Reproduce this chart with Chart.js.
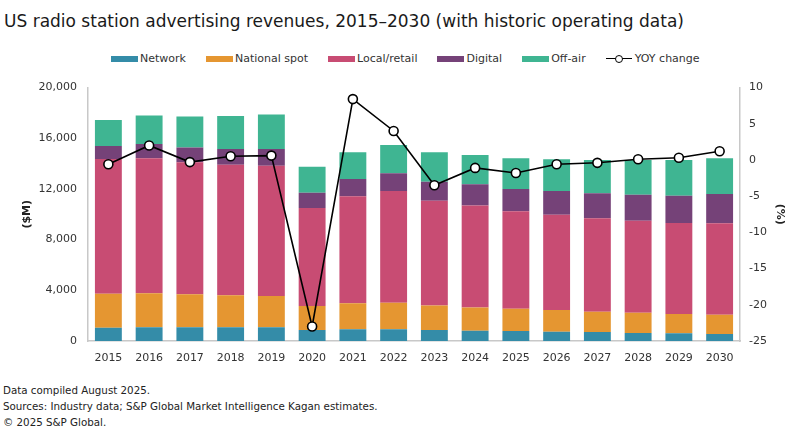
<!DOCTYPE html>
<html>
<head>
<meta charset="utf-8">
<script src="https://cdn.jsdelivr.net/npm/chart.js@4.4.1/dist/chart.umd.min.js"></script>
<style>
  body { margin: 0; background: #fff; }
  #wrap { position: relative; width: 807px; height: 438px; overflow: hidden;
          font-family: "DejaVu Sans", sans-serif; color: #1a1a1a; }
  #title { position: absolute; left: 4px; top: 11px; font-size: 17px; line-height: 20px; white-space: nowrap; }
  #legend { position: absolute; left: 111px; top: 52px; display: flex; align-items: center; font-size: 11px; line-height: 14px;
            color: #333; white-space: nowrap; }
  .item { display: flex; align-items: center; margin-right: 20px; }
  .box { width: 27px; height: 6px; margin-right: 2px; }
  .lineKey { position: relative; width: 26px; height: 12px; margin-right: 3px; }
  .lineKey:before { content: ""; position: absolute; left: 0; right: 0; top: 5px; border-top: 1.5px solid #000; }
  .lineKey:after { content: ""; position: absolute; left: 9px; top: 2px; width: 6px; height: 6px; border: 1.5px solid #000; border-radius: 50%; background: #fff; }
  #chart { position: absolute; left: 0; top: 75px; }
  #notes { position: absolute; left: 3px; top: 382px; font-size: 10.3px; line-height: 16px; color: #222; white-space: nowrap; }
</style>
</head>
<body>
<div id="wrap">
  <div id="title">US radio station advertising revenues, 2015–2030 (with historic operating data)</div>
  <div id="legend"></div>
  <canvas id="chart" width="807" height="300"></canvas>
  <div id="notes">
    Data compiled August 2025.<br>
    Sources: Industry data; S&amp;P Global Market Intelligence Kagan estimates.<br>
    © 2025 S&amp;P Global.
  </div>
</div>
<script>
const years = ["2015", "2016", "2017", "2018", "2019", "2020", "2021", "2022",
               "2023", "2024", "2025", "2026", "2027", "2028", "2029", "2030"];

// revenues, $M
const network      = [1050, 1080, 1080, 1080, 1080, 870, 920, 920, 870, 815, 790, 735, 710, 630, 605, 550];
const nationalSpot = [2680, 2680, 2600, 2520, 2470, 1890, 2050, 2100, 1940, 1835, 1760, 1710, 1600, 1600, 1525, 1525];
const localRetail  = [10630, 10650, 10420, 10310, 10280, 7730, 8450, 8810, 8260, 8050, 7680, 7520, 7370, 7255, 7180, 7210];
const digital      = [1030, 1130, 1160, 1240, 1320, 1210, 1365, 1400, 1500, 1660, 1760, 1870, 1970, 2050, 2155, 2315];
const offAir       = [2050, 2260, 2450, 2600, 2710, 2050, 2100, 2230, 2315, 2315, 2420, 2500, 2630, 2740, 2815, 2810];

// YOY change, %
const yoyChange = [-0.6, 2.0, -0.3, 0.5, 0.6, -23.0, 8.4, 4.0, -3.5, -1.1, -1.8, -0.6, -0.4, 0.1, 0.3, 1.2];

const leftTicks = [0, 4000, 8000, 12000, 16000, 20000];
const rightTicks = [-25, -20, -15, -10, -5, 0, 5, 10];

const colors = {
    network: "#348ca8",
    national: "#e59631",
    local: "#c84c73",
    digital: "#754278",
    offair: "#3fb592"
};

const fontFamily = '"DejaVu Sans", sans-serif';
const axisColor = "#c8c8c8";

/* LEGEND */

const legendItems = [
    ["Network", colors.network],
    ["National spot", colors.national],
    ["Local/retail", colors.local],
    ["Digital", colors.digital],
    ["Off-air", colors.offair]
];

const legend = document.getElementById("legend");

legendItems.forEach(([name, color]) => {
    const item = document.createElement("div");
    item.className = "item";
    item.innerHTML = '<span class="box" style="background:' + color + '"></span>' + name;
    legend.appendChild(item);
});

const lineItem = document.createElement("div");
lineItem.className = "item";
lineItem.innerHTML = '<span class="lineKey"></span>YOY change';
legend.appendChild(lineItem);

/* CHART */

function bar(label, data, color) {
    return {
        type: "bar",
        label: label,
        data: data,
        backgroundColor: color,
        borderWidth: 0,
        stack: "rev",
        yAxisID: "y",
        order: 1,
        categoryPercentage: 1,
        barPercentage: 0.66
    };
}

new Chart(document.getElementById("chart"), {
    data: {
        labels: years,
        datasets: [
            {
                type: "line",
                label: "YOY change",
                data: yoyChange,
                yAxisID: "y1",
                borderColor: "#000",
                borderWidth: 1.6,
                pointBackgroundColor: "#fff",
                pointBorderColor: "#000",
                pointBorderWidth: 1.6,
                pointRadius: 4.5,
                tension: 0,
                order: 0
            },
            bar("Network", network, colors.network),
            bar("National spot", nationalSpot, colors.national),
            bar("Local/retail", localRetail, colors.local),
            bar("Digital", digital, colors.digital),
            bar("Off-air", offAir, colors.offair)
        ]
    },
    options: {
        responsive: false,
        animation: false,
        layout: {
            padding: { top: 12.5, left: 0, right: 0, bottom: 0 }
        },
        plugins: {
            legend: { display: false },
            tooltip: { enabled: false }
        },
        scales: {
            x: {
                stacked: true,
                grid: { display: false },
                border: { display: true, color: axisColor, width: 1.5 },
                ticks: {
                    color: "#333",
                    padding: 3,
                    maxRotation: 0,
                    font: { family: fontFamily, size: 11 }
                },
                afterFit: scale => { scale.height = 34; }
            },
            y: {
                stacked: true,
                position: "left",
                min: 0,
                max: 20000,
                afterBuildTicks: scale => { scale.ticks = leftTicks.map(v => ({ value: v })); },
                grid: { display: false },
                border: { display: true, color: axisColor, width: 1.5 },
                ticks: {
                    color: "#333",
                    padding: 3,
                    font: { family: fontFamily, size: 11 },
                    callback: v => v.toLocaleString("en-US")
                },
                title: {
                    display: true,
                    text: "($M)",
                    color: "#222",
                    padding: { top: 21, bottom: 0 },
                    font: { family: fontFamily, size: 11, weight: "bold" }
                },
                afterFit: scale => { scale.width = 88; }
            },
            y1: {
                position: "right",
                min: -25,
                max: 10,
                afterBuildTicks: scale => { scale.ticks = rightTicks.map(v => ({ value: v })); },
                grid: { display: false },
                border: { display: true, color: axisColor, width: 1.5 },
                ticks: {
                    color: "#333",
                    padding: 1,
                    font: { family: fontFamily, size: 11 }
                },
                title: {
                    display: true,
                    text: "(%)",
                    color: "#222",
                    padding: { top: 21, bottom: 0 },
                    font: { family: fontFamily, size: 11, weight: "bold" }
                },
                afterFit: scale => { scale.width = 67; }
            }
        }
    }
});
</script>
</body>
</html>
